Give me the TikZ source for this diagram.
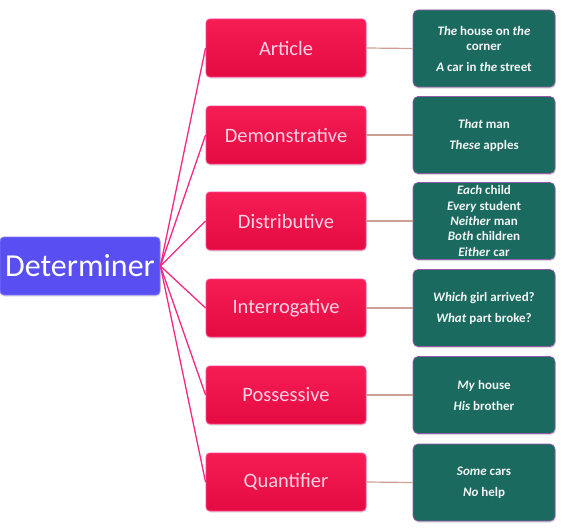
\documentclass[tikz,border=0pt]{standalone}
\usepackage{fontspec}
\setmainfont{Carlito}
\usetikzlibrary{shadows,shadings}
\definecolor{redtop}{RGB}{246,28,84}
\definecolor{redbot}{RGB}{228,10,66}
\definecolor{redborder}{RGB}{255,70,150}
\definecolor{redtext}{RGB}{255,210,228}
\definecolor{bluefill}{RGB}{88,78,242}
\definecolor{blueborder}{RGB}{130,120,255}
\definecolor{greenfill}{RGB}{26,106,96}
\definecolor{greenborder}{RGB}{150,90,170}
\definecolor{greentext}{RGB}{242,245,244}
\definecolor{pinkline}{RGB}{245,40,130}
\definecolor{tanline}{RGB}{205,160,150}
\tikzset{
  catbox/.style={draw=redborder, line width=0.9pt, top color=redtop, bottom color=redbot,
    rounded corners=4pt, minimum width=160pt, minimum height=58pt, text=redtext,
    font=\fontsize{20.5}{24}\selectfont,
    drop shadow={opacity=0.25, shadow xshift=0.5pt, shadow yshift=-1.5pt}},
  rootbox/.style={draw=blueborder, line width=0.8pt, fill=bluefill,
    rounded corners=4pt, minimum width=160pt, minimum height=58pt, text=white,
    font=\fontsize{32}{36}\selectfont, inner xsep=2pt,
    drop shadow={opacity=0.25, shadow xshift=0.5pt, shadow yshift=-1.5pt}},
  exbox/.style={draw=greenborder, line width=0.7pt, fill=greenfill,
    rounded corners=5pt, minimum width=142pt, minimum height=77pt, text=greentext,
    align=center, font=\bfseries\fontsize{13}{21}\selectfont, inner sep=2pt,
    drop shadow={opacity=0.3, shadow xshift=0.8pt, shadow yshift=-1.5pt}},
  tightex/.style={exbox, font=\bfseries\fontsize{13}{15.4}\selectfont},
  rootlink/.style={draw=pinkline, line width=1.3pt},
  exlink/.style={draw=tanline, line width=1.2pt}
}
\begin{document}
\begin{tikzpicture}[x=1pt,y=-1pt]
\useasboundingbox (0,0) rectangle (569,527);
\node[rootbox] (det) at (80,266) {Determiner};

\node[catbox] (c1) at (286,48) {Article};
\node[catbox] (c2) at (286,135) {Demonstrative};
\node[catbox] (c3) at (286,221) {Distributive};
\node[catbox] (c4) at (286,308) {Interrogative};
\node[catbox] (c5) at (286,395) {Possessive};
\node[catbox] (c6) at (286,482) {Quantifier};

\node[exbox] (e1) at (484,48.5) {\textit{The} house on \textit{the}\\[-6pt]corner\\\textit{A} car in \textit{the} street};
\node[exbox] (e2) at (484,135) {\textit{That} man\\\textit{These} apples};
\node[tightex] (e3) at (484,221) {\textit{Each} child\\\textit{Every} student\\\textit{Neither} man\\\textit{Both} children\\\textit{Either} car};
\node[exbox] (e4) at (484,308) {\textit{Which} girl arrived?\\\textit{What} part broke?};
\node[exbox] (e5) at (484,395) {\textit{My} house\\\textit{His} brother};
\node[exbox] (e6) at (484,482.5) {\textit{Some} cars\\\textit{No} help};

\foreach \i in {1,...,6}{
  \draw[rootlink] (det.east) -- (c\i.west);
  \draw[exlink] (c\i.east) -- (e\i.west);
}
\end{tikzpicture}
\end{document}
